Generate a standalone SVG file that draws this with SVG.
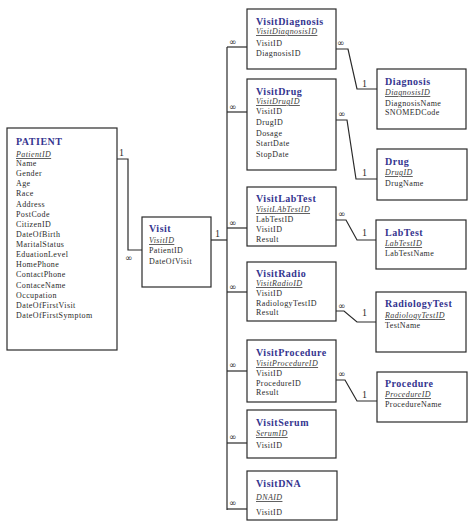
<svg xmlns="http://www.w3.org/2000/svg" width="474" height="530" viewBox="0 0 474 530">
<style>
.box{fill:#fff;stroke:#2a2a2a;stroke-width:1.2}
.t{font-family:"Liberation Serif",serif;font-size:10px;font-weight:bold;fill:#35358f;letter-spacing:0.5px}
.f{font-family:"Liberation Serif",serif;font-size:8px;fill:#2a2a2a;letter-spacing:0.4px}
.k{font-family:"Liberation Serif",serif;font-size:8px;font-style:italic;fill:#3a3a3a;letter-spacing:0.4px;text-decoration:underline}
.c{fill:none;stroke:#2a2a2a;stroke-width:1.2}
.l{font-family:"Liberation Serif",serif;font-size:10px;fill:#2a2a2a}
.i{font-family:"DejaVu Sans",sans-serif;font-size:9px;fill:#2a2a2a}
</style>
<rect width="474" height="530" fill="#fff"/>
<g id="connectors">
<polyline class="c" points="117,159 128,159 128,250 142,250"/>
<text class="l" x="119" y="156">1</text>
<text class="i" x="125" y="261">∞</text>
<polyline class="c" points="211,240 227,240"/>
<text class="l" x="215" y="237">1</text>
<line class="c" x1="227" y1="47" x2="227" y2="510"/>
<line class="c" x1="227" y1="47" x2="247" y2="47"/>
<line class="c" x1="227" y1="112" x2="247" y2="112"/>
<line class="c" x1="227" y1="228" x2="247" y2="228"/>
<line class="c" x1="227" y1="292" x2="247" y2="292"/>
<line class="c" x1="227" y1="371" x2="247" y2="371"/>
<line class="c" x1="227" y1="443" x2="247" y2="443"/>
<line class="c" x1="227" y1="509" x2="247" y2="509"/>
<text class="i" x="229" y="45">∞</text>
<text class="i" x="229" y="110">∞</text>
<text class="i" x="229" y="226">∞</text>
<text class="i" x="229" y="290">∞</text>
<text class="i" x="229" y="368">∞</text>
<text class="i" x="229" y="440">∞</text>
<text class="i" x="229" y="506">∞</text>
<polyline class="c" points="336,49 348,49 357,89 377,89"/>
<text class="i" x="337" y="46">∞</text>
<text class="l" x="362" y="87">1</text>
<polyline class="c" points="336,120 347,120 356,179 377,179"/>
<text class="i" x="338" y="117">∞</text>
<text class="l" x="362" y="176">1</text>
<polyline class="c" points="336,220 346,220 357,240 376,240"/>
<text class="i" x="338" y="217">∞</text>
<text class="l" x="362" y="236">1</text>
<polyline class="c" points="336,311 344,311 357,322 376,322"/>
<text class="i" x="338" y="309">∞</text>
<text class="l" x="362" y="316">1</text>
<polyline class="c" points="336,380 345,380 357,401 377,401"/>
<text class="i" x="338" y="377">∞</text>
<text class="l" x="362" y="398">1</text>
</g>
<g id="PATIENT">
<rect class="box" x="7" y="128" width="110" height="222"/>
<text class="t" x="16" y="145">PATIENT</text>
<text class="k" x="16" y="157">PatientID</text>
<text class="f" x="16" y="166">Name</text>
<text class="f" x="16" y="176.1">Gender</text>
<text class="f" x="16" y="186.3">Age</text>
<text class="f" x="16" y="196.4">Race</text>
<text class="f" x="16" y="206.5">Address</text>
<text class="f" x="16" y="216.7">PostCode</text>
<text class="f" x="16" y="226.8">CitizenID</text>
<text class="f" x="16" y="236.9">DateOfBirth</text>
<text class="f" x="16" y="247">MaritalStatus</text>
<text class="f" x="16" y="257.2">EduationLevel</text>
<text class="f" x="16" y="267.3">HomePhone</text>
<text class="f" x="16" y="277.4">ContactPhone</text>
<text class="f" x="16" y="287.6">ContaceName</text>
<text class="f" x="16" y="297.7">Occupation</text>
<text class="f" x="16" y="307.8">DateOfFirstVisit</text>
<text class="f" x="16" y="318">DateOfFirstSymptom</text>
</g>
<g id="Visit">
<rect class="box" x="142" y="217" width="69" height="70"/>
<text class="t" x="149" y="232">Visit</text>
<text class="k" x="149" y="243">VisitID</text>
<text class="f" x="149" y="253">PatientID</text>
<text class="f" x="149" y="264">DateOfVisit</text>
</g>
<g id="VisitDiagnosis">
<rect class="box" x="247" y="9" width="89" height="60"/>
<text class="t" x="256" y="25">VisitDiagnosis</text>
<text class="k" x="256" y="34">VisitDiagnosisID</text>
<text class="f" x="256" y="46">VisitID</text>
<text class="f" x="256" y="56">DiagnosisID</text>
</g>
<g id="VisitDrug">
<rect class="box" x="247" y="79" width="89" height="91"/>
<text class="t" x="256" y="95">VisitDrug</text>
<text class="k" x="256" y="104">VisitDrugID</text>
<text class="f" x="256" y="114">VisitID</text>
<text class="f" x="256" y="125">DrugID</text>
<text class="f" x="256" y="136">Dosage</text>
<text class="f" x="256" y="146">StartDate</text>
<text class="f" x="256" y="157">StopDate</text>
</g>
<g id="VisitLabTest">
<rect class="box" x="247" y="187" width="89" height="59"/>
<text class="t" x="256" y="202">VisitLabTest</text>
<text class="k" x="256" y="212">VisitLAbTestID</text>
<text class="f" x="256" y="222">LabTestID</text>
<text class="f" x="256" y="232">VisitID</text>
<text class="f" x="256" y="242">Result</text>
</g>
<g id="VisitRadio">
<rect class="box" x="247" y="262" width="89" height="59"/>
<text class="t" x="256" y="277">VisitRadio</text>
<text class="k" x="256" y="286">VisitRadioID</text>
<text class="f" x="256" y="296">VisitID</text>
<text class="f" x="256" y="306">RadiologyTestID</text>
<text class="f" x="256" y="315">Result</text>
</g>
<g id="VisitProcedure">
<rect class="box" x="247" y="340" width="89" height="62"/>
<text class="t" x="256" y="356">VisitProcedure</text>
<text class="k" x="256" y="366">VisitProcedureID</text>
<text class="f" x="256" y="376">VisitID</text>
<text class="f" x="256" y="386">ProcedureID</text>
<text class="f" x="256" y="395">Result</text>
</g>
<g id="VisitSerum">
<rect class="box" x="247" y="410" width="89" height="48"/>
<text class="t" x="256" y="426">VisitSerum</text>
<text class="k" x="256" y="436">SerumID</text>
<text class="f" x="256" y="448">VisitID</text>
</g>
<g id="VisitDNA">
<rect class="box" x="247" y="471" width="90" height="49"/>
<text class="t" x="256" y="487">VisitDNA</text>
<text class="k" x="256" y="500">DNAID</text>
<text class="f" x="256" y="515">VisitID</text>
</g>
<g id="Diagnosis">
<rect class="box" x="377" y="69" width="89" height="60"/>
<text class="t" x="385" y="85">Diagnosis</text>
<text class="k" x="385" y="95">DiagnosisID</text>
<text class="f" x="385" y="106">DiagnosisName</text>
<text class="f" x="385" y="115">SNOMEDCode</text>
</g>
<g id="Drug">
<rect class="box" x="377" y="149" width="90" height="51"/>
<text class="t" x="385" y="165">Drug</text>
<text class="k" x="385" y="175">DrugID</text>
<text class="f" x="385" y="186">DrugName</text>
</g>
<g id="LabTest">
<rect class="box" x="376" y="220" width="90" height="49"/>
<text class="t" x="385" y="236">LabTest</text>
<text class="k" x="385" y="246">LabTestID</text>
<text class="f" x="385" y="256">LabTestName</text>
</g>
<g id="RadiologyTest">
<rect class="box" x="376" y="292" width="90" height="60"/>
<text class="t" x="385" y="307">RadiologyTest</text>
<text class="k" x="385" y="318">RadiologyTestID</text>
<text class="f" x="385" y="328">TestName</text>
</g>
<g id="Procedure">
<rect class="box" x="377" y="372" width="90" height="50"/>
<text class="t" x="385" y="387">Procedure</text>
<text class="k" x="385" y="397">ProcedureID</text>
<text class="f" x="385" y="407">ProcedureName</text>
</g>
</svg>
